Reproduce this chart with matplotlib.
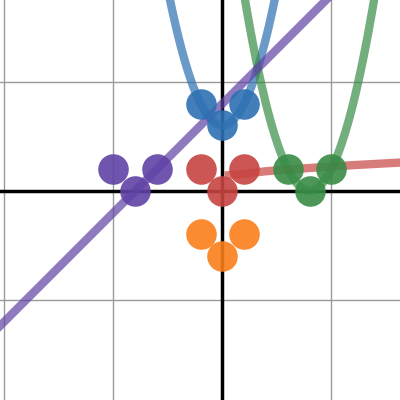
import numpy as np
import matplotlib
matplotlib.use('Agg')
import matplotlib.pyplot as plt

# point groups (x, y)
blue_pts = ([-1, 1, 0], [4, 4, 3])
red_pts = ([-1, 1, 0], [1, 1, 0])
orange_pts = ([-1, 1, 0], [-2, -2, -3])
purple_pts = ([-5, -3, -4], [1, 1, 0])
green_pts = ([3, 5, 4], [1, 1, 0])

# red curve
red_x = [0.3, 1, 2, 4, 6, 8.2]
red_y = [0.72, 0.78, 0.9, 1.05, 1.18, 1.3]

blue, red, green = '#2d70b3', '#c74440', '#388c46'
purple, orange = '#6042a6', '#fa7e19'

fig = plt.figure(figsize=(4, 4), dpi=100)
ax = fig.add_axes([0, 0, 1, 1])
xmin, xmax, ymin, ymax = -10.2, 8.15, -9.6, 8.76
ax.set_xlim(xmin, xmax)
ax.set_ylim(ymin, ymax)
for g in [-10, -5, 5]:
    ax.axvline(g, color='#999', lw=1, zorder=0)
for g in [-5, 5]:
    ax.axhline(g, color='#999', lw=1, zorder=0)
ax.axvline(0, color='black', lw=2.5, zorder=1)
ax.axhline(0, color='black', lw=2.5, zorder=1)

x = np.linspace(xmin, xmax, 500)
ax.plot(x, x**2 + 3, color=blue, lw=6, alpha=0.7, zorder=2)
ax.plot(x, (x - 4)**2, color=green, lw=6, alpha=0.7, zorder=2)
ax.plot(x, x + 4, color=purple, lw=6, alpha=0.7, zorder=2)
ax.plot(red_x, red_y, color=red, lw=6, alpha=0.7, zorder=2)

for (px, py), c in [(blue_pts, blue), (red_pts, red), (orange_pts, orange),
                    (purple_pts, purple), (green_pts, green)]:
    ax.plot(px, py, 'o', color=c, ms=22, mew=0, alpha=0.9, ls='none', zorder=3)

ax.axis('off')
fig.savefig('out.png', dpi=100)
